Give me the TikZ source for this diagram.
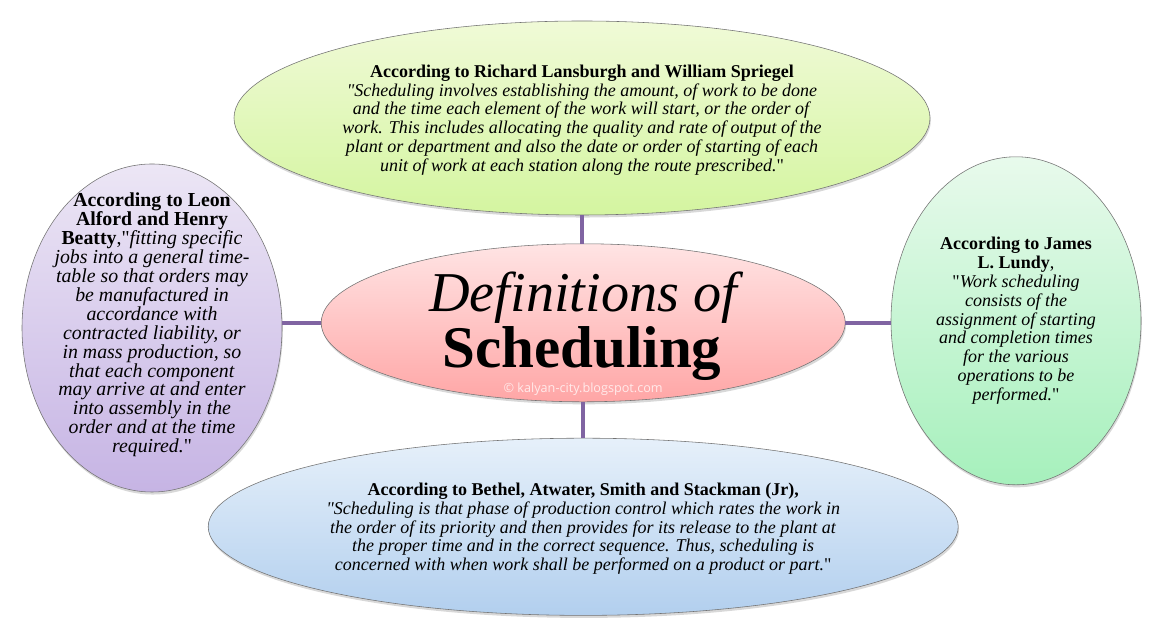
\documentclass[tikz,border=0pt]{standalone}
\usepackage{fontspec}
\setmainfont{Liberation Serif}[Ligatures=TeXOff]
\newfontfamily\marksans{Open Sans}
\usetikzlibrary{shapes.geometric,shadows}

\definecolor{linkpurple}{RGB}{128,100,162}
\definecolor{limetop}{RGB}{240,250,215}
\definecolor{limebot}{RGB}{212,245,160}
\definecolor{rosetop}{RGB}{255,228,228}
\definecolor{rosebot}{RGB}{255,166,166}
\definecolor{lilactop}{RGB}{236,230,245}
\definecolor{lilacbot}{RGB}{198,180,228}
\definecolor{minttop}{RGB}{232,250,236}
\definecolor{mintbot}{RGB}{166,240,188}
\definecolor{skytop}{RGB}{230,240,250}
\definecolor{skybot}{RGB}{178,207,238}

\tikzset{
	bubble/.style={ellipse, draw=black!55, line width=0.4pt, inner sep=0pt,
		drop shadow={shadow xshift=0.6pt, shadow yshift=-1.8pt, opacity=0.3}},
	quotetext/.style={align=center, inner sep=0pt, font=\fontsize{12.8}{13.3}\selectfont},
	widequote/.style={align=center, inner sep=0pt, font=\fontsize{14.1}{13.5}\selectfont},
	narrowquote/.style={align=center, inner sep=0pt, font=\fontsize{12.8}{13.4}\selectfont},
	link/.style={draw=linkpurple, line width=2.8pt}
}

\begin{document}
\begin{tikzpicture}
		%%%%% START %%%%%
		
		\useasboundingbox (0, 0) rectangle (29.2, 16);
		\fill[white] (0, 0) rectangle (29.2, 16);
		
		\node[bubble, top color=limetop, bottom color=limebot, minimum width=17.4cm, minimum height=4.85cm] (lansburgh) at (14.55, 13.05) {};
		\node[bubble, top color=rosetop, bottom color=rosebot, minimum width=13.1cm, minimum height=3.95cm] (centre) at (14.58, 7.93) {};
		\node[bubble, top color=lilactop, bottom color=lilacbot, minimum width=6.5cm, minimum height=8.2cm] (alford) at (3.8, 7.8) {};
		\node[bubble, top color=minttop, bottom color=mintbot, minimum width=6.25cm, minimum height=8.2cm] (lundy) at (25.4, 7.98) {};
		\node[bubble, top color=skytop, bottom color=skybot, minimum width=18.75cm, minimum height=4.43cm] (bethel) at (14.58, 2.83) {};
		
		\draw[link] (lansburgh.south) -- (lansburgh.south |- centre.north);
		\draw[link] (centre.south) -- (centre.south |- bethel.north);
		\draw[link] (centre.west) -- (centre.west -| alford.east);
		\draw[link] (centre.east) -- (centre.east -| lundy.west);
		
		\node[quotetext] (lansburghtext) at (14.55, 13.0) {\textbf{According to Richard Lansburgh and William Spriegel}\\
			\textit{"Scheduling involves establishing the amount, of work to be done}\\
			\textit{and the time each element of the work will start, or the order of}\\
			\textit{work. This includes allocating the quality and rate of output of the}\\
			\textit{plant or department and also the date or order of starting of each}\\
			\textit{unit of work at each station along the route prescribed.}"};
		
		\node[widequote] (alfordtext) at (3.8, 7.88) {\textbf{According to Leon}\\
			\textbf{Alford and Henry}\\
			\textbf{Beatty},"\textit{fitting specific}\\
			\textit{jobs into a general time-}\\
			\textit{table so that orders may}\\
			\textit{be manufactured in}\\
			\textit{accordance with}\\
			\textit{contracted liability, or}\\
			\textit{in mass production, so}\\
			\textit{that each component}\\
			\textit{may arrive at and enter}\\
			\textit{into assembly in the}\\
			\textit{order and at the time}\\
			\textit{required.}"};
		
		\node[narrowquote] (lundytext) at (25.4, 7.98) {\textbf{According to James}\\
			\textbf{L. Lundy},\\
			"\textit{Work scheduling}\\
			\textit{consists of the}\\
			\textit{assignment of starting}\\
			\textit{and completion times}\\
			\textit{for the various}\\
			\textit{operations to be}\\
			\textit{performed.}"};
		
		\node[quotetext] (betheltext) at (14.58, 2.78) {\textbf{According to Bethel, Atwater, Smith and Stackman (Jr),}\\
			\textit{"Scheduling is that phase of production control which rates the work in}\\
			\textit{the order of its priority and then provides for its release to the plant at}\\
			\textit{the proper time and in the correct sequence. Thus, scheduling is}\\
			\textit{concerned with when work shall be performed on a product or part.}"};
		
		\node[anchor=base, inner sep=0pt, font=\fontsize{40}{40}\selectfont\itshape] (deftitle) at (14.58, 8.2) {Definitions of};
		\node[anchor=base, inner sep=0pt, font=\fontsize{42}{42}\selectfont\bfseries] (schedtitle) at (14.55, 6.8) {Scheduling};
		\node[inner sep=0pt, text=white, opacity=0.75, font=\marksans\fontsize{9}{10}\selectfont] (watermark) at (14.58, 6.28) {\textcopyright{} kalyan-city.blogspot.com};
		
		%%%%% END %%%%%
	\end{tikzpicture}
\end{document}
